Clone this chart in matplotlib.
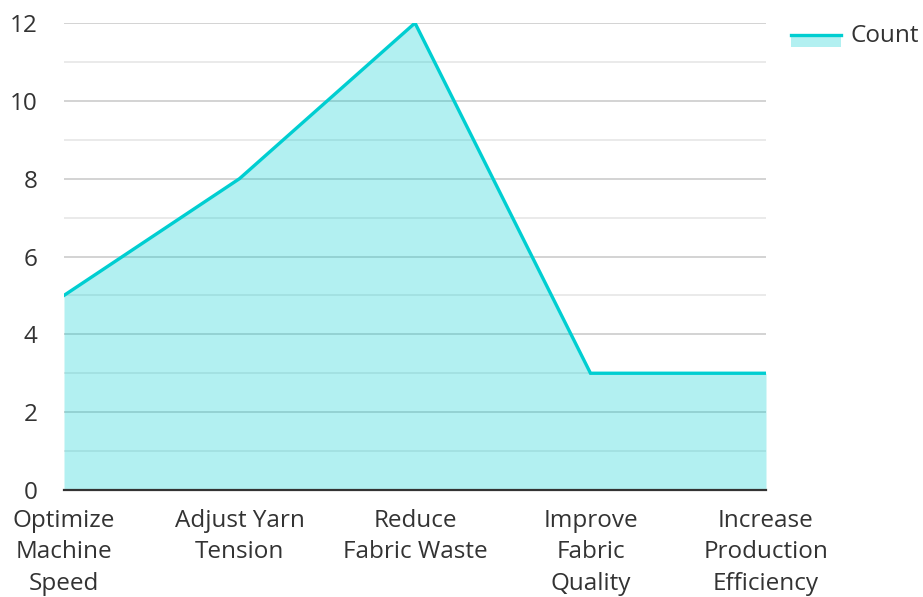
import matplotlib.pyplot as plt
from matplotlib.patches import Rectangle
from matplotlib.lines import Line2D

categories = ['Optimize\nMachine\nSpeed', 'Adjust Yarn\nTension', 'Reduce\nFabric Waste',
              'Improve\nFabric\nQuality', 'Increase\nProduction\nEfficiency']
counts = [5, 8, 12, 3, 3]
series_name = 'Count'

line_color = '#00CED1'
text_color = '#333333'

plt.rcParams['font.family'] = ['Open Sans', 'DejaVu Sans']

W, H = 923, 597
fig = plt.figure(figsize=(W / 100, H / 100), dpi=100)
ax = fig.add_axes([64 / W, 1 - 490 / H, (766 - 64) / W, (490 - 23) / H])

x = list(range(len(categories)))
ax.fill_between(x, counts, 0, color=line_color, alpha=0.3, lw=0, zorder=2)
ax.plot(x, counts, color=line_color, lw=2.4, zorder=3, solid_joinstyle='miter')

ax.set_xlim(0, len(categories) - 1)
ax.set_ylim(0, 12)
ax.set_yticks(range(0, 13, 2))
ax.set_yticks(range(1, 12, 2), minor=True)
ax.set_xticks(x)
ax.set_xticklabels(categories, linespacing=1.41)

ax.grid(axis='y', which='major', color='#cccccc', lw=1.2, zorder=1)
ax.grid(axis='y', which='minor', color='#e6e6e6', lw=1.2, zorder=1)
ax.set_axisbelow(True)

for s in ['left', 'right', 'top']:
    ax.spines[s].set_visible(False)
ax.spines['bottom'].set_color(text_color)
ax.spines['bottom'].set_linewidth(1.6)
ax.spines['bottom'].set_zorder(4)

ax.tick_params(axis='both', which='both', length=0, labelsize=17.5, colors=text_color)
ax.tick_params(axis='y', pad=19)
ax.tick_params(axis='x', pad=13.5)

# legend drawn in figure pixels
fig.patches.append(Rectangle((791 / W, 1 - 47 / H), 50 / W, 12 / H,
                             transform=fig.transFigure, color=line_color, alpha=0.3, lw=0))
fig.lines.append(Line2D([791 / W, 841 / W], [1 - 35 / H] * 2, transform=fig.transFigure,
                        color=line_color, lw=2.4))
fig.text(851 / W, 1 - 36 / H, series_name, fontsize=17.5, color=text_color, va='center', ha='left')

fig.savefig('out.png', dpi=100)
